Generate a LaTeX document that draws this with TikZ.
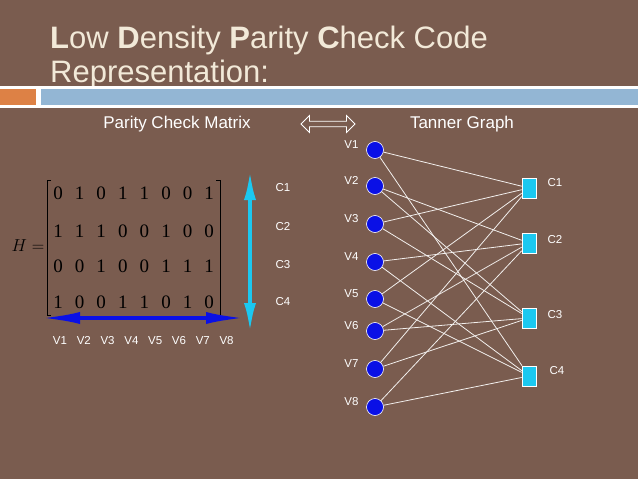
\documentclass[tikz,border=0pt]{standalone}
\usepackage{fontspec}
\setmainfont{Liberation Sans}
\newfontfamily\tms{Liberation Serif}
\usetikzlibrary{arrows.meta,shapes.arrows}
\definecolor{bg}{HTML}{7A5C4F}
\definecolor{tit}{HTML}{F2E9D8}
\definecolor{bar}{HTML}{93B6D4}
\definecolor{org}{HTML}{DD8145}
\definecolor{cy}{HTML}{1BC8F0}
\definecolor{bl}{HTML}{0A10E6}
\tikzset{
 lab/.style={text=white,font=\fontsize{11.5}{13}\selectfont},
 head/.style={text=white,font=\fontsize{17}{19}\selectfont},
 vn/.style={circle,fill=bl,draw=white,line width=0.6pt,minimum size=17pt,inner sep=0pt},
 cn/.style={rectangle,fill=cy,draw=white,line width=0.6pt,minimum width=14pt,minimum height=20pt,inner sep=0pt},
 ed/.style={draw=white!90!bg,line width=0.8pt},
 ent/.style={text=black,font=\tms\fontsize{19}{21}\selectfont}
}
\begin{document}
\begin{tikzpicture}[x=1pt,y=-1pt]
\fill[bg] (0,0) rectangle (638,479);
\useasboundingbox (0,0) rectangle (638,479);
\node[anchor=base west,text=tit,font=\fontsize{31}{35}\selectfont,inner sep=0] (t1) at (50,48) {\textbf{L}ow \textbf{D}ensity \textbf{P}arity \textbf{C}heck Code};
\node[anchor=base west,text=tit,font=\fontsize{31}{35}\selectfont,inner sep=0] (t2) at (50,82) {Representation:};
\fill[white] (0,86) rectangle (638,108);
\fill[org] (0,89) rectangle (36,105);
\fill[bar] (41,89) rectangle (638,105);
\node[head] (pcm) at (177,124) {Parity Check Matrix};
\node[head] (tg) at (462,124) {Tanner Graph};
\node[double arrow,draw=white,fill=none,line width=0.8pt,minimum width=17pt,minimum height=54pt,double arrow head extend=3pt,inner sep=1pt] (da) at (328,124) {};
% matrix
\foreach \r/\y/\vals in {1/193/{0,1,0,1,1,0,0,1},2/231/{1,1,1,0,0,1,0,0},3/266/{0,0,1,0,0,1,1,1},4/302/{1,0,0,1,1,0,1,0}}{
 \foreach \v [count=\c] in \vals { \node[ent] (m\r\c) at ({58+(\c-1)*21.6},\y) {\v}; }
}
\draw[black,line width=0.6pt] (51,180)--(47,180)--(47,315)--(51,315);
\draw[black,line width=0.6pt] (216,180)--(220,180)--(220,315)--(216,315);
\node[ent] (H) at (28,246) {$H=$};
\foreach \i/\y in {1/188,2/227,3/265,4/302}{\node[lab] (mc\i) at (283,\y) {C\i};}
\foreach \i in {1,...,8}{\node[lab,anchor=base] (mv\i) at ({60+(\i-1)*23.8},344) {V\i};}
\coordinate (ca) at (250,170); \coordinate (cb) at (250,333);
\draw[{Latex[length=30pt,width=12pt]}-{Latex[length=30pt,width=12pt]},draw=cy,line width=4pt] (ca)--(cb);
\coordinate (ha) at (40,318); \coordinate (hb) at (246,318);
\draw[{Latex[length=40pt,width=12pt]}-{Latex[length=40pt,width=12pt]},draw=bl,line width=4pt] (ha)--(hb);
% tanner
\foreach \i/\y in {1/150,2/186,3/224,4/262,5/299,6/331,7/369,8/407}{
 \node[vn] (v\i) at (375,\y) {};
 \node[lab,anchor=base east] (lv\i) at (362,{\y-2}) {V\i};
}
\foreach \i/\y in {1/188,2/243,3/318,4/376}{\node[cn] (c\i) at (529,\y) {};}
\node[lab] (lc1) at (555,183) {C1};
\node[lab] (lc2) at (555,240) {C2};
\node[lab] (lc3) at (555,315) {C3};
\node[lab] (lc4) at (557,371) {C4};
\foreach \a/\b in {1/1,1/4,2/2,2/3,3/1,3/3,4/2,4/4,5/1,5/4,6/2,6/3,7/1,7/3,8/2,8/4}{
 \draw[ed] (v\a) -- (c\b);
}
\end{tikzpicture}
\end{document}
